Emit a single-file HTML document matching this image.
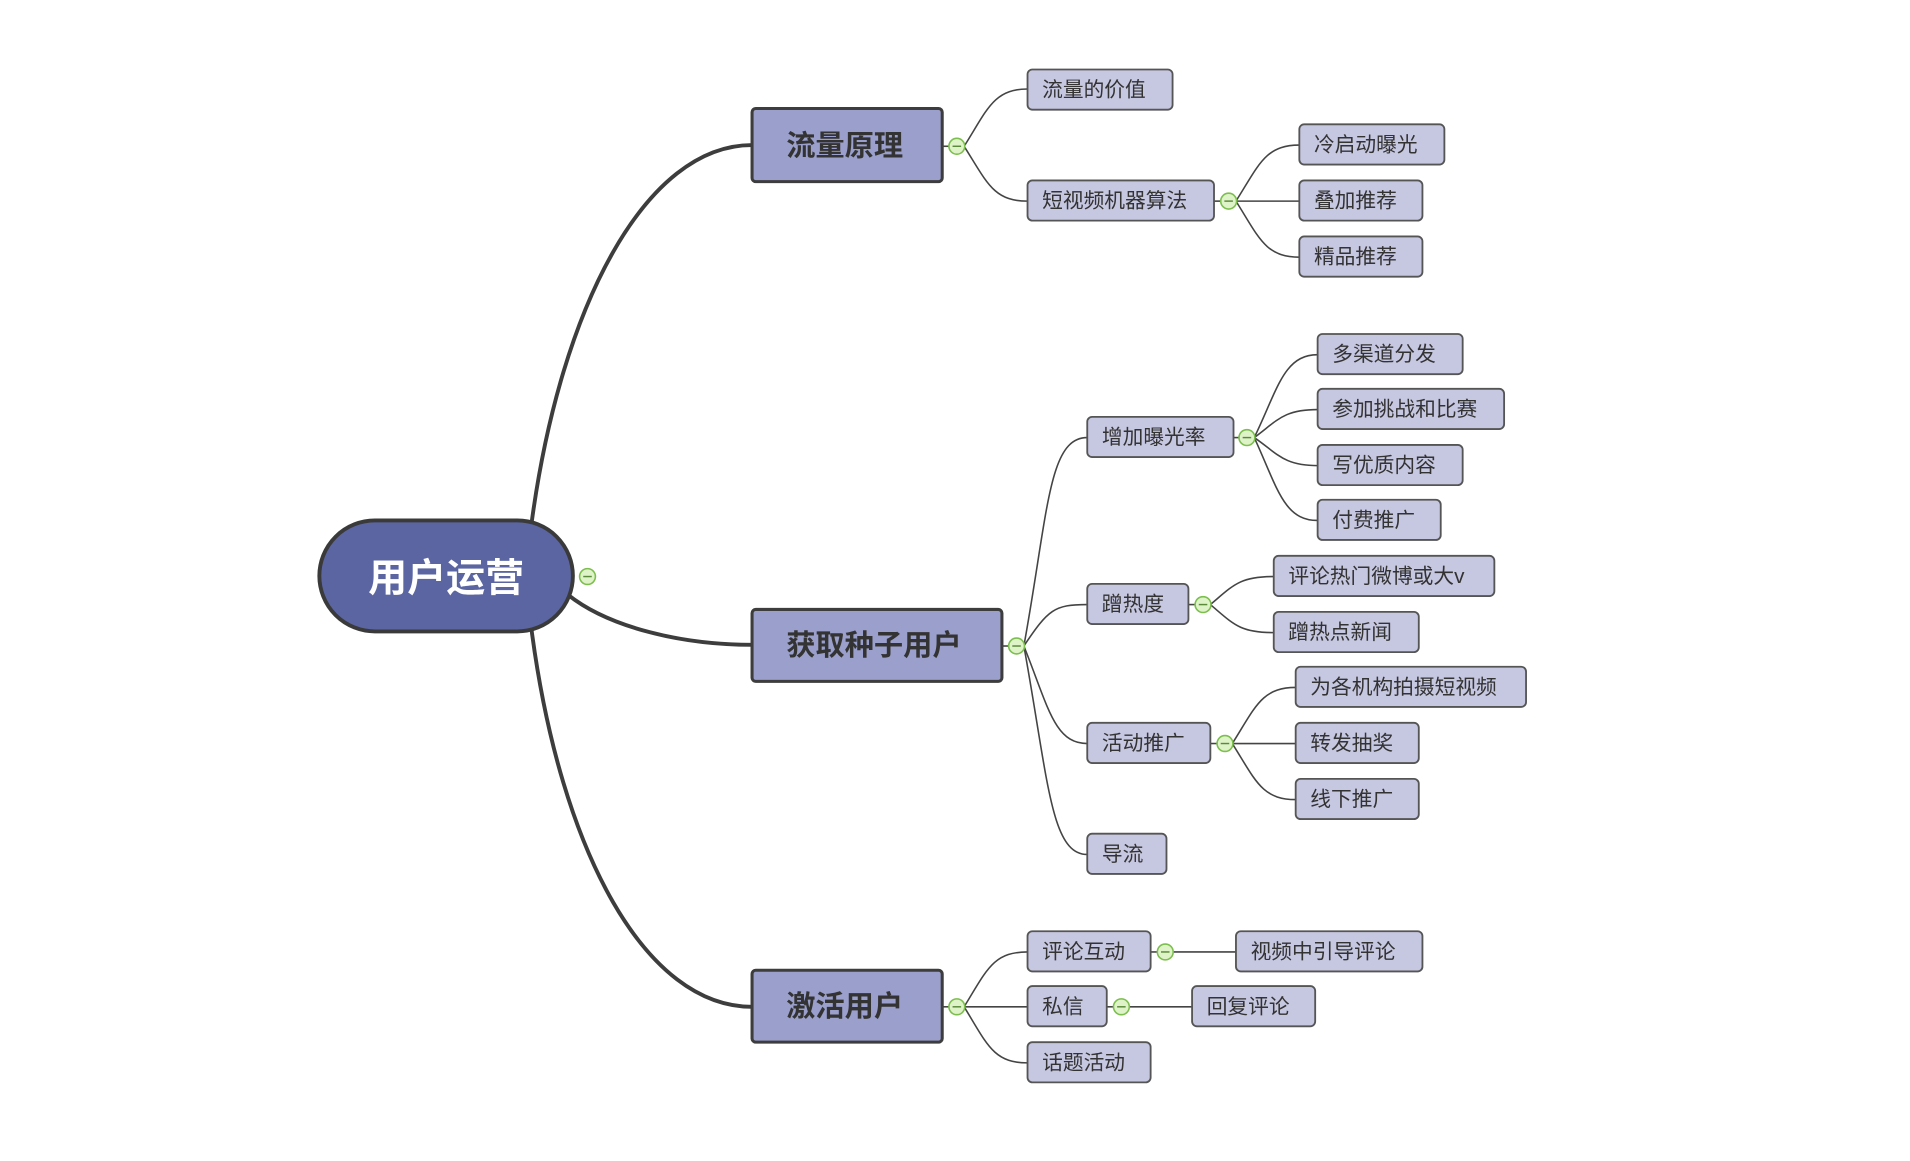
<!DOCTYPE html>
<html><head><meta charset="utf-8"><style>
html,body{margin:0;padding:0;background:#fff;width:1910px;height:1161px;overflow:hidden}
svg{display:block}
text{font-family:"Liberation Sans","Noto Sans CJK SC",sans-serif;}
.l2{fill:#c6c7e1;stroke:#555;stroke-width:1.5}
.t2{font-size:17px;fill:#333;dominant-baseline:central}
.l1{fill:#9a9fcb;stroke:#3d3d3d;stroke-width:2.5}
.t1{font-size:24px;font-weight:bold;fill:#333;dominant-baseline:central;text-anchor:middle}
.c{fill:none;stroke:#444;stroke-width:1.3}
.m{fill:none;stroke:#3d3d3d;stroke-width:3.2}
.cc{fill:#dff3c9;stroke:#7cbf4e;stroke-width:1.3}
.cl{stroke:#5a8a3a;stroke-width:1.2}
</style></head><body>
<svg width="1910" height="1161" viewBox="0 0 1567 952.5" xmlns="http://www.w3.org/2000/svg">
<path class="m" d="M436,430 C460,250 530,119 617,119"/>
<path class="m" d="M466,488 C500,515 560,529 617,529"/>
<path class="m" d="M436,516 C460,700 530,826 617,826"/>
<rect x="262" y="427" width="208" height="91" rx="45.5" fill="#5b65a2" stroke="#3a3a3a" stroke-width="3.2"/>
<text x="366" y="475" font-size="32" font-weight="bold" fill="#fff" text-anchor="middle" dominant-baseline="central">用户运营</text>

<rect class="l1" x="617" y="89" width="156" height="60" rx="3"/><text class="t1" x="693" y="120">流量原理</text>
<rect class="l1" x="617" y="500" width="205" height="59" rx="3"/><text class="t1" x="717" y="530">获取种子用户</text>
<rect class="l1" x="617" y="796" width="156" height="59" rx="3"/><text class="t1" x="693" y="826">激活用户</text>

<g class="c">
<path d="M773,120 H779"/><path d="M822,530 H828"/><path d="M773,826 H779"/>
<path d="M791,120 C810,90 815,73 843,73"/><path d="M791,120 C810,150 815,165 843,165"/>
<path d="M996,165 H1002"/>
<path d="M1014,165 C1033,135 1038,119 1066,119"/><path d="M1014,165 H1066"/><path d="M1014,165 C1033,195 1038,211 1066,211"/>
<path d="M840,530 C860,420 860,359 892,359"/><path d="M840,530 C860,500 865,496 892,496"/><path d="M840,530 C860,580 865,610 892,610"/><path d="M840,530 C860,640 862,701 892,701"/>
<path d="M1012,359 H1017"/><path d="M975,496 H981"/><path d="M993,610 H999"/>
<path d="M1029,359 C1048,320 1053,291 1081,291"/><path d="M1029,359 C1048,345 1053,336 1081,336"/><path d="M1029,359 C1048,372 1053,382 1081,382"/><path d="M1029,359 C1048,400 1053,427 1081,427"/>
<path d="M993,496 C1012,480 1017,473 1045,473"/><path d="M993,496 C1012,512 1017,519 1045,519"/>
<path d="M1011,610 C1030,580 1035,564 1063,564"/><path d="M1011,610 H1063"/><path d="M1011,610 C1030,640 1035,656 1063,656"/>
<path d="M791,826 C810,795 815,781 843,781"/><path d="M791,826 H843"/><path d="M791,826 C810,857 815,872 843,872"/>
<path d="M944,781 H950"/><path d="M962,781 H1014"/><path d="M908,826 H914"/><path d="M926,826 H978"/>
</g>

<rect class="l2" x="843" y="57" width="119" height="33" rx="4"/><text class="t2" x="855" y="74">流量的价值</text>
<rect class="l2" x="843" y="148" width="153" height="33" rx="4"/><text class="t2" x="855" y="165">短视频机器算法</text>
<rect class="l2" x="1066" y="102" width="119" height="33" rx="4"/><text class="t2" x="1078" y="119">冷启动曝光</text>
<rect class="l2" x="1066" y="148" width="101" height="33" rx="4"/><text class="t2" x="1078" y="165">叠加推荐</text>
<rect class="l2" x="1066" y="194" width="101" height="33" rx="4"/><text class="t2" x="1078" y="211">精品推荐</text>

<rect class="l2" x="892" y="342" width="120" height="33" rx="4"/><text class="t2" x="904" y="359">增加曝光率</text>
<rect class="l2" x="1081" y="274" width="119" height="33" rx="4"/><text class="t2" x="1093" y="291">多渠道分发</text>
<rect class="l2" x="1081" y="319" width="153" height="33" rx="4"/><text class="t2" x="1093" y="336">参加挑战和比赛</text>
<rect class="l2" x="1081" y="365" width="119" height="33" rx="4"/><text class="t2" x="1093" y="382">写优质内容</text>
<rect class="l2" x="1081" y="410" width="101" height="33" rx="4"/><text class="t2" x="1093" y="427">付费推广</text>

<rect class="l2" x="892" y="479" width="83" height="33" rx="4"/><text class="t2" x="904" y="496">蹭热度</text>
<rect class="l2" x="1045" y="456" width="181" height="33" rx="4"/><text class="t2" x="1057" y="473">评论热门微博或大v</text>
<rect class="l2" x="1045" y="502" width="119" height="33" rx="4"/><text class="t2" x="1057" y="519">蹭热点新闻</text>

<rect class="l2" x="892" y="593" width="101" height="33" rx="4"/><text class="t2" x="904" y="610">活动推广</text>
<rect class="l2" x="1063" y="547" width="189" height="33" rx="4"/><text class="t2" x="1075" y="564">为各机构拍摄短视频</text>
<rect class="l2" x="1063" y="593" width="101" height="33" rx="4"/><text class="t2" x="1075" y="610">转发抽奖</text>
<rect class="l2" x="1063" y="639" width="101" height="33" rx="4"/><text class="t2" x="1075" y="656">线下推广</text>

<rect class="l2" x="892" y="684" width="65" height="33" rx="4"/><text class="t2" x="904" y="701">导流</text>

<rect class="l2" x="843" y="764" width="101" height="33" rx="4"/><text class="t2" x="855" y="781">评论互动</text>
<rect class="l2" x="1014" y="764" width="153" height="33" rx="4"/><text class="t2" x="1026" y="781">视频中引导评论</text>
<rect class="l2" x="843" y="809" width="65" height="33" rx="4"/><text class="t2" x="855" y="826">私信</text>
<rect class="l2" x="978" y="809" width="101" height="33" rx="4"/><text class="t2" x="990" y="826">回复评论</text>
<rect class="l2" x="843" y="855" width="101" height="33" rx="4"/><text class="t2" x="855" y="872">话题活动</text>

<g>
<circle class="cc" cx="482" cy="473" r="6.5"/><line class="cl" x1="478.5" y1="473" x2="485.5" y2="473"/>
<circle class="cc" cx="785" cy="120" r="6.5"/><line class="cl" x1="781.5" y1="120" x2="788.5" y2="120"/>
<circle class="cc" cx="834" cy="530" r="6.5"/><line class="cl" x1="830.5" y1="530" x2="837.5" y2="530"/>
<circle class="cc" cx="785" cy="826" r="6.5"/><line class="cl" x1="781.5" y1="826" x2="788.5" y2="826"/>
<circle class="cc" cx="1008" cy="165" r="6.5"/><line class="cl" x1="1004.5" y1="165" x2="1011.5" y2="165"/>
<circle class="cc" cx="1023" cy="359" r="6.5"/><line class="cl" x1="1019.5" y1="359" x2="1026.5" y2="359"/>
<circle class="cc" cx="987" cy="496" r="6.5"/><line class="cl" x1="983.5" y1="496" x2="990.5" y2="496"/>
<circle class="cc" cx="1005" cy="610" r="6.5"/><line class="cl" x1="1001.5" y1="610" x2="1008.5" y2="610"/>
<circle class="cc" cx="956" cy="781" r="6.5"/><line class="cl" x1="952.5" y1="781" x2="959.5" y2="781"/>
<circle class="cc" cx="920" cy="826" r="6.5"/><line class="cl" x1="916.5" y1="826" x2="923.5" y2="826"/>
</g>
</svg>
</body></html>
